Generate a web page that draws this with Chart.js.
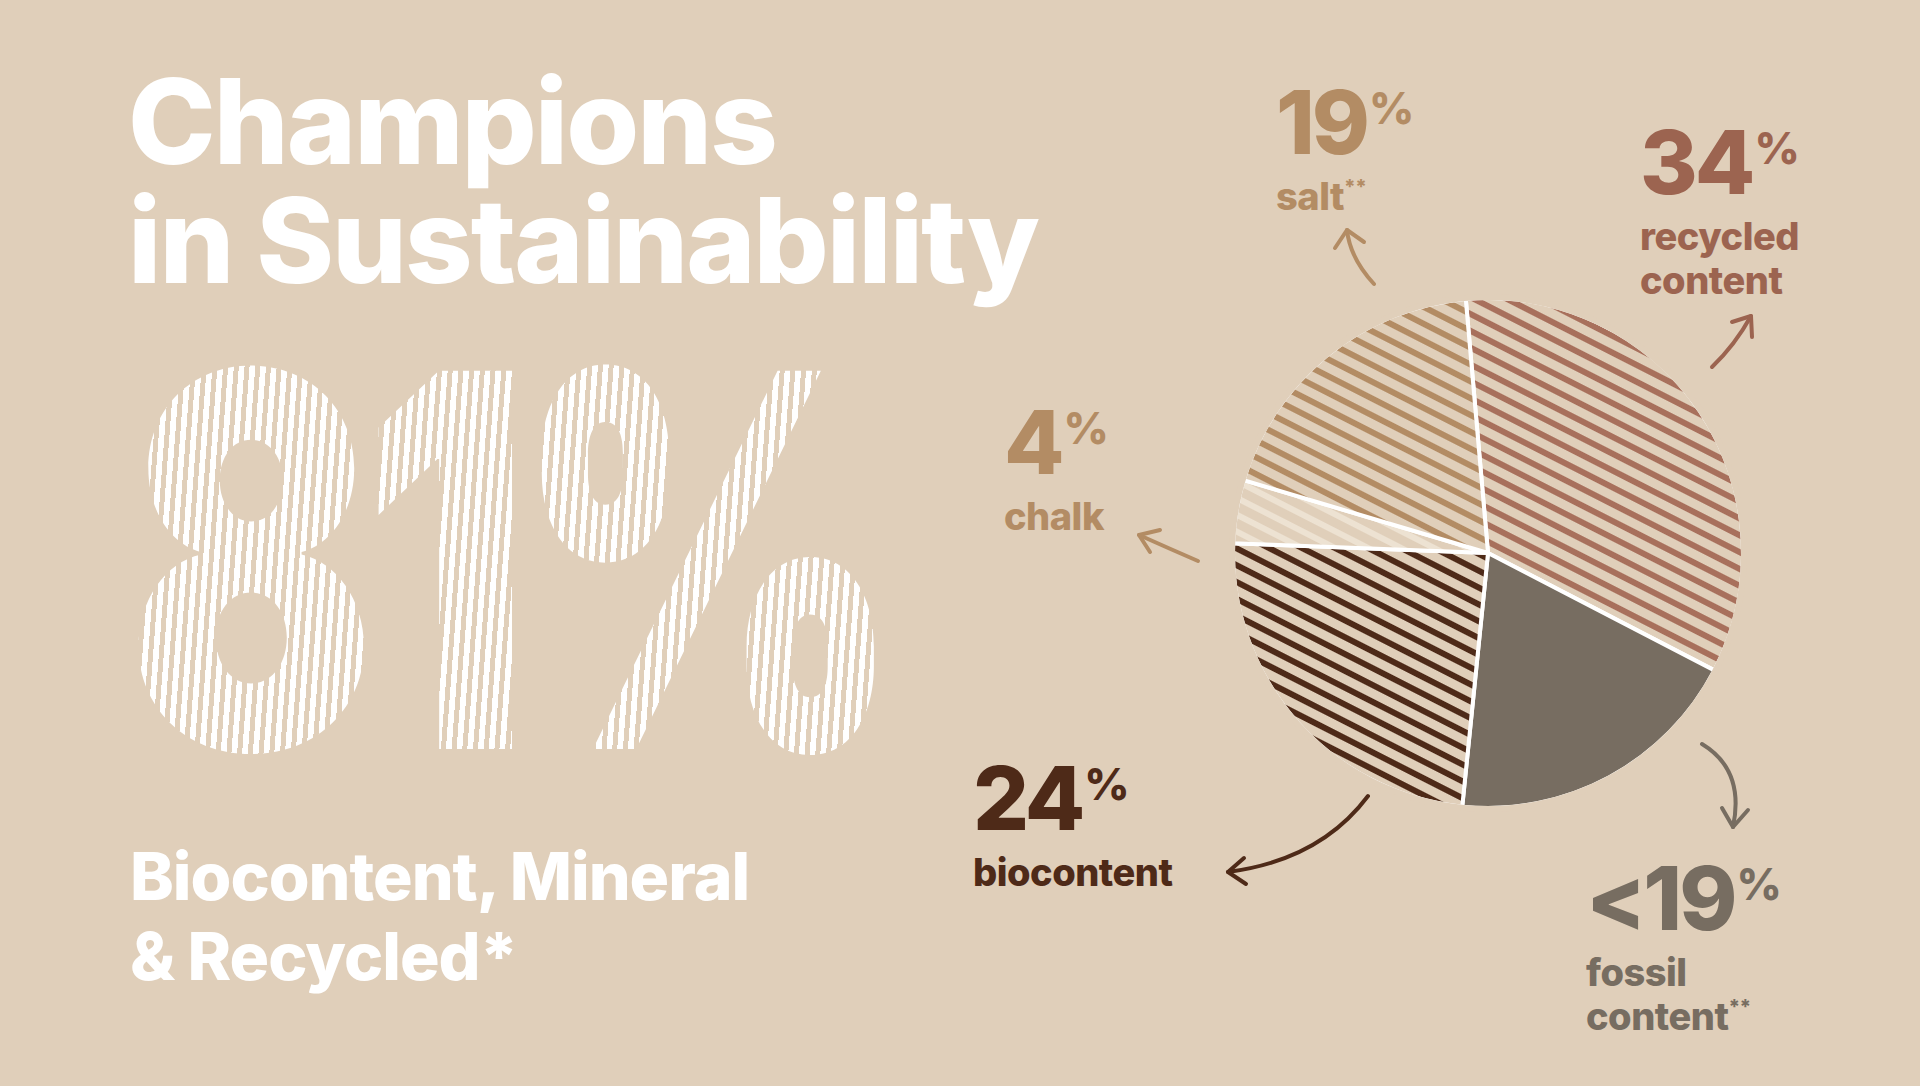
<!DOCTYPE html>
<html>
<head>
<meta charset="utf-8">
<script src="https://cdn.jsdelivr.net/npm/chart.js@4.4.0/dist/chart.umd.min.js"></script>
<style>
  html, body { margin: 0; padding: 0; }
  body { width: 1920px; height: 1086px; background: #e0cfba; position: relative; overflow: hidden; font-family: Inter, "Open Sans", sans-serif; font-weight: 800; }
  .t { position: absolute; white-space: nowrap; }
  #title { left: 128px; top: 62px; color: #fff; font-size: 118px; line-height: 119px; letter-spacing: -2px; }
  #big { left: 126px; top: 300px; font-size: 520px; line-height: 520px; letter-spacing: -20px; font-weight: 900;
    transform: scaleX(0.71); transform-origin: 0 0;
    background: repeating-linear-gradient(96deg, #fff 0 8px, transparent 8px 15px);
    -webkit-background-clip: text; background-clip: text; color: transparent; }
  #sub { left: 130px; top: 836px; color: #fff; font-size: 66px; line-height: 80px; letter-spacing: -1px; }
  .num { font-size: 88px; line-height: 72px; letter-spacing: -3px; }
  .num sup { font-size: 44px; vertical-align: 0; position: relative; top: -30px; letter-spacing: 0; margin-left: 2px; }
  .lab { font-size: 38px; line-height: 44px; letter-spacing: -0.5px; }
  .lab sup { font-size: 20px; vertical-align: 0; position: relative; top: -16px; }
  #chartBox { position: absolute; left: 1218px; top: 283px; width: 540px; height: 540px; }
  svg { position: absolute; left: 0; top: 0; }
</style>
</head>
<body>
<div class="t" id="title">Champions<br>in Sustainability</div>
<div class="t" id="big">81%</div>
<div class="t" id="sub">Biocontent, Mineral<br>&amp; Recycled*</div>

<div class="t" id="lblSalt" style="left:1276px;top:86px;color:#b38c64">
  <div class="num">19<sup>%</sup></div><div class="lab">salt<sup>**</sup></div></div>
<div class="t" id="lblRec" style="left:1640px;top:126px;color:#9c6450">
  <div class="num">34<sup>%</sup></div><div class="lab">recycled<br>content</div></div>
<div class="t" id="lblChalk" style="left:1004px;top:406px;color:#b38c64">
  <div class="num">4<sup>%</sup></div><div class="lab">chalk</div></div>
<div class="t" id="lblBio" style="left:973px;top:762px;color:#4e2a18">
  <div class="num">24<sup>%</sup></div><div class="lab">biocontent</div></div>
<div class="t" id="lblFos" style="left:1586px;top:862px;color:#776d61">
  <div class="num">&lt;19<sup>%</sup></div><div class="lab">fossil<br>content<sup>**</sup></div></div>

<svg width="1920" height="1086" fill="none" stroke-width="4" stroke-linecap="round" stroke-linejoin="round">
  <g stroke="#b38c64">
    <path d="M1374 284 Q1350 258 1347 230"/><path d="M1335 248 L1347 230 L1364 242"/>
    <path d="M1198 561 Q1168 548 1139 535"/><path d="M1160 530 L1139 535 L1150 552"/>
  </g>
  <g stroke="#9c6450">
    <path d="M1712 367 Q1735 345 1751 316"/><path d="M1732 322 L1751 316 L1752 337"/>
  </g>
  <g stroke="#776d61">
    <path d="M1702 744 Q1745 770 1733 827"/><path d="M1722 808 L1733 827 L1748 810"/>
  </g>
  <g stroke="#4e2a18">
    <path d="M1368 796 Q1320 860 1228 872"/><path d="M1244 858 L1228 872 L1246 884"/>
  </g>
</svg>

<div id="chartBox"><canvas id="pie" width="540" height="540"></canvas></div>

<script>
const categories = ['recycled content', 'fossil content', 'biocontent', 'chalk', 'salt'];
const shares = [34, 19, 24, 4, 19];
const stripeColors = ['#a8705c', null, '#4e2a18', '#ede2d2', '#b38c64'];
const solidColors = ['#a8705c', '#776d61', '#4e2a18', '#ede2d2', '#b38c64'];
const bg = '#e0cfba';

function stripes(ctx, color) {
  const c = document.createElement('canvas');
  c.width = 15; c.height = 15;
  const g = c.getContext('2d');
  g.fillStyle = bg;
  g.fillRect(0, 0, 15, 15);
  g.fillStyle = color;
  g.fillRect(0, 0, 15, 6);
  const p = ctx.createPattern(c, 'repeat');
  p.setTransform(new DOMMatrix().rotate(27));
  return p;
}

// hide the outer rim of the border so only the white separators remain
const hideRim = {
  id: 'hideRim',
  afterDatasetsDraw(chart) {
    const arc = chart.getDatasetMeta(0).data[0];
    const c = chart.ctx;
    c.save();
    c.beginPath();
    c.arc(arc.x, arc.y, arc.outerRadius + 1, 0, Math.PI * 2);
    c.strokeStyle = bg;
    c.lineWidth = 6;
    c.stroke();
    c.restore();
  }
};

const ctx = document.getElementById('pie').getContext('2d');
const fills = stripeColors.map((c, i) => c ? stripes(ctx, c) : solidColors[i]);

new Chart(ctx, {
  type: 'pie',
  data: {
    labels: categories,
    datasets: [{
      data: shares,
      backgroundColor: fills,
      borderColor: '#ffffff',
      borderWidth: 4
    }]
  },
  options: {
    responsive: false,
    animation: false,
    rotation: -5,
    layout: { padding: 13 },
    plugins: { legend: { display: false }, tooltip: { enabled: false } }
  },
  plugins: [hideRim]
});
</script>
</body>
</html>
